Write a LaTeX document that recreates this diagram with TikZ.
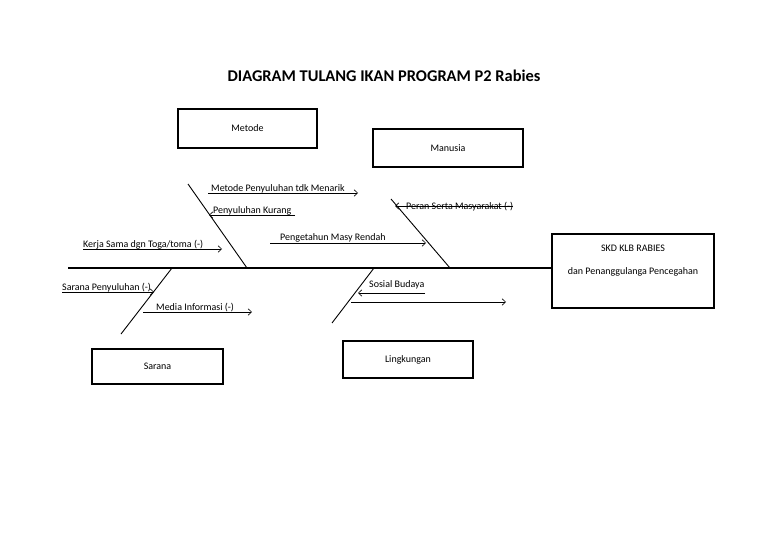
\documentclass[tikz,border=0pt]{standalone}
\usepackage{fontspec}
\setmainfont{Carlito}
\usetikzlibrary{arrows.meta}
\begin{document}
\begin{tikzpicture}[x=1pt,y=-1pt,
  box/.style={draw,line width=1.3pt,inner sep=0pt,text height=6.4pt,text depth=0pt,
    font=\fontsize{10}{23}\selectfont,align=center},
  lbl/.style={font=\fontsize{10}{12}\selectfont,inner sep=0pt,anchor=base west},
  bone/.style={line width=0.9pt},
  spine/.style={line width=1.1pt},
  arr/.style={line width=0.6pt,-{Straight Barb[length=3.5pt,width=6.5pt]}},
  plain/.style={line width=0.6pt},
]
\useasboundingbox[fill=white] (0,0) rectangle (768,543);

\node[font=\bfseries\fontsize{16.4}{18}\selectfont,inner sep=0pt] (title) at (384,76) {DIAGRAM TULANG IKAN PROGRAM P2 Rabies};

% category boxes
\node[box,minimum width=139pt,minimum height=39pt] (metode) at (247.5,128.5) {Metode};
\node[box,minimum width=150pt,minimum height=38pt] (manusia) at (448,148) {Manusia};
\node[box,minimum width=131pt,minimum height=35pt] (sarana) at (157.5,366.5) {Sarana};
\node[box,minimum width=130pt,minimum height=37pt] (lingk) at (408,359.5) {Lingkungan};
\node[box,minimum width=162pt,minimum height=74pt] (skd) at (633,271) {SKD KLB RABIES\\dan Penanggulanga Pencegahan};

% spine
\coordinate (spineL) at (68,268);
\draw[spine] (spineL) -- (spineL -| skd.west);

% bones
\coordinate (mTop) at (188,184);  \coordinate (mBot) at (247,268);
\coordinate (nTop) at (391,199);  \coordinate (nBot) at (450,268);
\coordinate (sTop) at (172,268);  \coordinate (sBot) at (121,334);
\coordinate (lTop) at (374,268);  \coordinate (lBot) at (332,323);
\draw[bone] (mTop) -- (mBot);
\draw[bone] (nTop) -- (nBot);
\draw[bone] (sTop) -- (sBot);
\draw[bone] (lTop) -- (lBot);

% cause arrows
\coordinate (a1s) at (208,193); \coordinate (a1e) at (358,193);
\draw[arr] (a1s) -- (a1e);
\node[lbl] (t1) at (211,191.5) {Metode Penyuluhan tdk Menarik};

\coordinate (a2s) at (295,215); \coordinate (a2e) at (209,215);
\draw[arr] (a2s) -- (a2e);
\node[lbl] (t2) at (213,213.3) {Penyuluhan Kurang};

\coordinate (a3s) at (83,249); \coordinate (a3e) at (222,249);
\draw[arr] (a3s) -- (a3e);
\node[lbl] (t3) at (83,247.3) {Kerja Sama dgn Toga/toma (-)};

\coordinate (a4s) at (270,243); \coordinate (a4e) at (426,243);
\draw[arr] (a4s) -- (a4e);
\node[lbl] (t4) at (280,240.3) {Pengetahun Masy Rendah};

\coordinate (a5s) at (513,206); \coordinate (a5e) at (395,206);
\draw[arr] (a5s) -- (a5e);
\node[lbl] (t5) at (406,209.3) {Peran Serta Masyarakat (-)};

\coordinate (a6s) at (62,292); \coordinate (a6e) at (154,292);
\draw[arr] (a6s) -- (a6e);
\node[lbl] (t6) at (62,290.5) {Sarana Penyuluhan (-)};

\coordinate (a7s) at (143,312); \coordinate (a7e) at (252,312);
\draw[arr] (a7s) -- (a7e);
\node[lbl] (t7) at (156,310.8) {Media Informasi (-)};

\coordinate (a8s) at (425,293); \coordinate (a8e) at (358,293);
\draw[arr] (a8s) -- (a8e);
\node[lbl] (t8) at (369,287.3) {Sosial Budaya};

\coordinate (a9s) at (351,302); \coordinate (a9e) at (506,302);
\draw[arr] (a9s) -- (a9e);
\end{tikzpicture}
\end{document}
